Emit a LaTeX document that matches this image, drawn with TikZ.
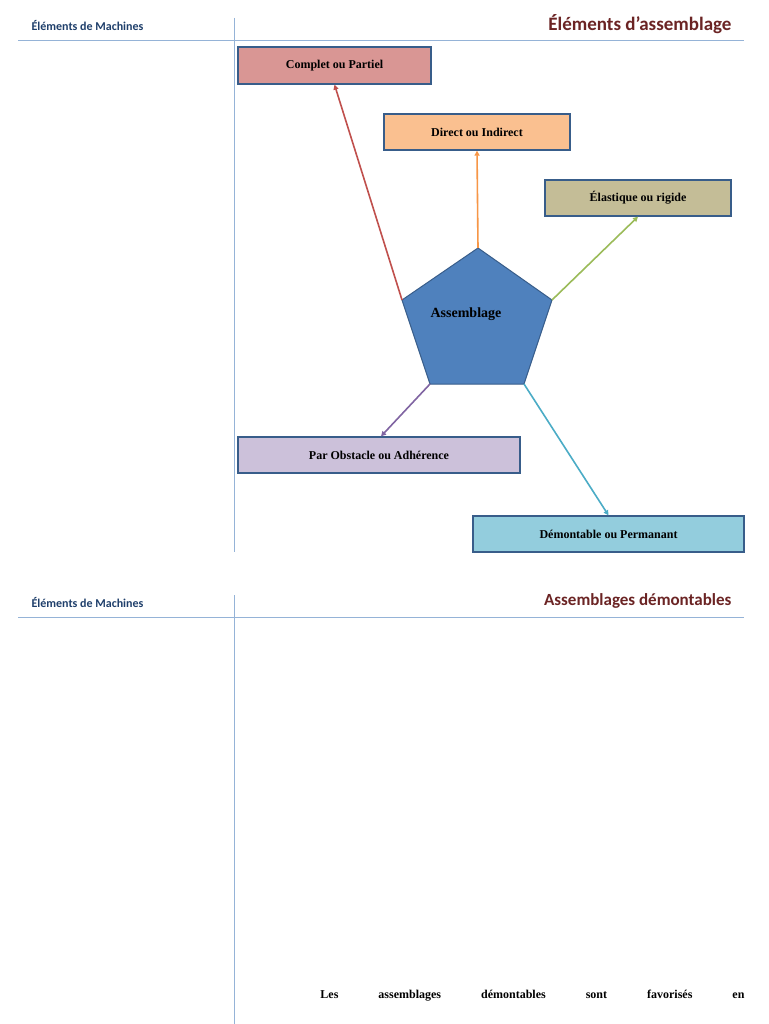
\documentclass[tikz,border=0pt]{standalone}
\usepackage{fontspec}
\setmainfont{Liberation Serif}
\newfontfamily\carlitofont{Carlito}
\usetikzlibrary{arrows.meta}
\definecolor{hdr}{HTML}{1F3F6B}
\definecolor{ttl}{HTML}{6B2424}
\definecolor{rul}{HTML}{95B3D7}
\definecolor{bord}{HTML}{385D8A}
\definecolor{fcp}{RGB}{217,150,148}
\definecolor{fdi}{RGB}{250,192,144}
\definecolor{fel}{RGB}{196,189,151}
\definecolor{fpo}{RGB}{204,193,218}
\definecolor{fdp}{RGB}{147,205,221}
\definecolor{fpent}{RGB}{79,129,189}
\definecolor{acp}{RGB}{192,80,77}
\definecolor{adi}{RGB}{247,150,70}
\definecolor{ael}{RGB}{155,187,89}
\definecolor{apo}{RGB}{128,100,162}
\definecolor{adp}{RGB}{75,172,198}
\begin{document}
\begin{tikzpicture}[x=1pt,y=-1pt,
  bx/.style={draw=bord,line width=1.3pt,font=\bfseries\fontsize{12}{14}\selectfont,inner sep=0pt},
  arr/.style={line width=1.6pt,-{Triangle[length=5pt,width=5pt]}}]
\useasboundingbox (0,0) rectangle (768,1024);
\fill[white] (0,0) rectangle (768,1024);
% headers
\node[anchor=west,text=hdr,font=\carlitofont\bfseries\fontsize{12}{14}\selectfont] (h1) at (28,26) {Éléments de Machines};
\node[anchor=east,text=ttl,font=\carlitofont\bfseries\fontsize{19}{22}\selectfont] (t1) at (735,24) {Éléments d’assemblage};
\draw[rul,line width=1pt] (18,41) -- (744,41);
\draw[rul,line width=1pt] (234,18) -- (234,552);
\node[anchor=west,text=hdr,font=\carlitofont\bfseries\fontsize{12}{14}\selectfont] (h2) at (28,602) {Éléments de Machines};
\node[anchor=east,text=ttl,font=\carlitofont\bfseries\fontsize{17}{20}\selectfont] (t2) at (735,601) {Assemblages démontables};
\draw[rul,line width=1pt] (18,617) -- (744,617);
\draw[rul,line width=1pt] (234,595) -- (234,1024);
% boxes
\node[bx,fill=fcp,minimum width=193pt,minimum height=37pt] (cp) at (334.5,65.5) {Complet ou Partiel};
\node[bx,fill=fdi,minimum width=186pt,minimum height=36pt] (di) at (477,132) {Direct ou Indirect};
\node[bx,fill=fel,minimum width=186pt,minimum height=36pt] (el) at (638,198) {Élastique ou rigide};
\node[bx,fill=fpo,minimum width=282pt,minimum height=36pt] (po) at (379,455) {Par Obstacle ou Adhérence};
\node[bx,fill=fdp,minimum width=271pt,minimum height=36pt] (dp) at (608.5,534) {Démontable ou Permanant};
% pentagon
\coordinate (pt) at (478,248);
\coordinate (pr) at (552,300);
\coordinate (pbr) at (524,384);
\coordinate (pbl) at (430,384);
\coordinate (pl) at (402,300);
\draw[fill=fpent,draw=bord,line width=1pt] (pt)--(pr)--(pbr)--(pbl)--(pl)--cycle;
\node[font=\bfseries\fontsize{14}{16}\selectfont] (as) at (466,314) {Assemblage};
% arrows
\draw[arr,acp] (pl) -- (cp.south);
\draw[arr,adi] (pt) -- (di.south);
\draw[arr,ael] (pr) -- (el.south);
\draw[arr,apo] (pbl) -- ([xshift=2pt]po.north);
\draw[arr,adp] (pbr) -- (dp.north);
% bottom text
\node[anchor=east,font=\bfseries\fontsize{12}{14}\selectfont,text width=424pt,align=justify] (bt) at (748,996) {Les\hfill assemblages\hfill démontables\hfill sont\hfill favorisés\hfill en};
\end{tikzpicture}
\end{document}
